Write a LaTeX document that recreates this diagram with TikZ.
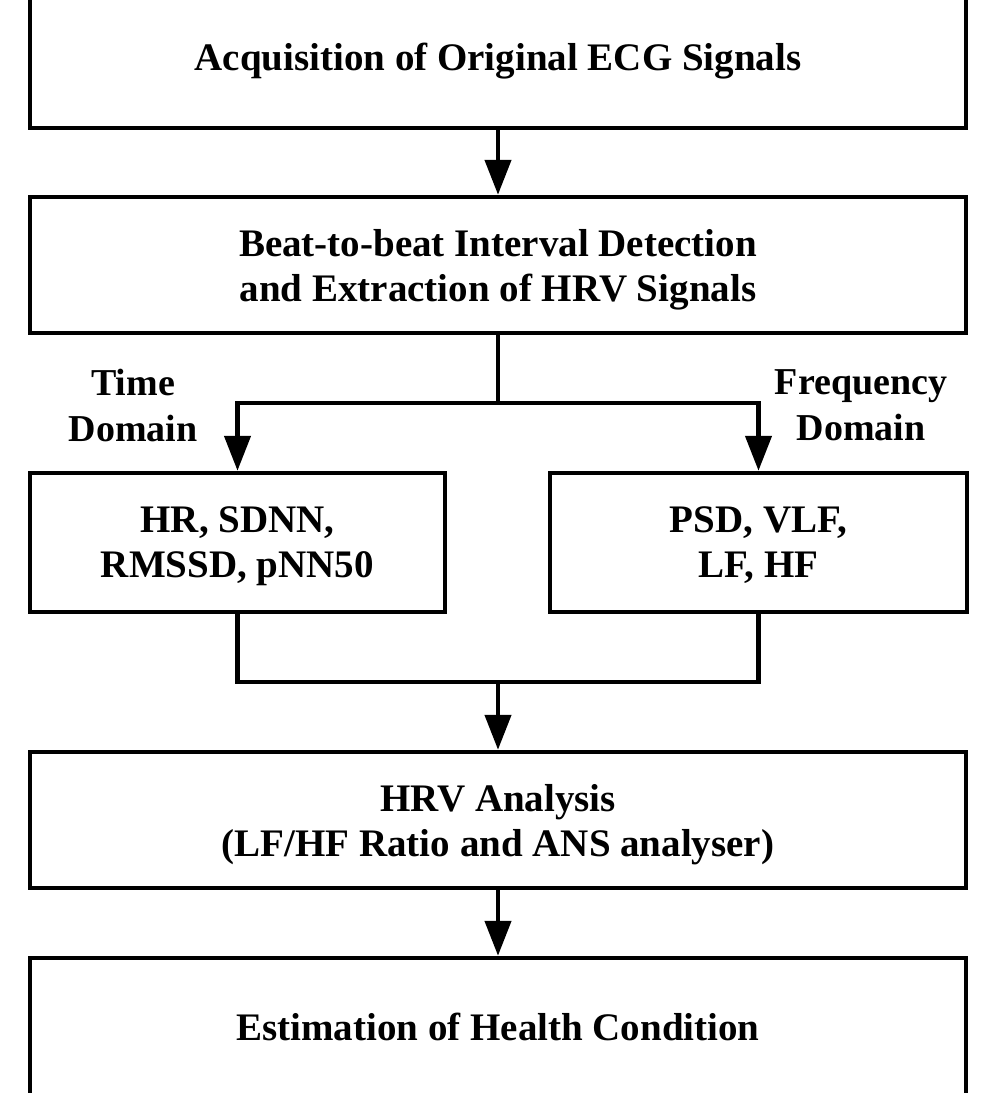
\documentclass[tikz,border=0pt]{standalone}
\usepackage{fontspec}
\setmainfont{Liberation Serif}
\usetikzlibrary{arrows.meta}
\begin{document}
\begin{tikzpicture}[x=1pt,y=-1pt,
  box/.style={draw, line width=4.5pt, align=center, inner sep=0pt, text depth=0pt,
    font=\fontsize{39}{45}\selectfont\bfseries},
  lbl/.style={align=center, inner sep=0pt, font=\fontsize{38}{46}\selectfont\bfseries},
  conn/.style={line width=4.5pt},
  arr/.style={conn, -{Triangle[length=35pt,width=26pt]}}]
\clip (0,0) rectangle (998,1093);
\fill[white] (0,0) rectangle (998,1093);
\node[box, minimum width=936pt, minimum height=142pt] (acq) at (498,57) {Acquisition of Original ECG Signals};
\node[box, minimum width=936pt, minimum height=136pt] (beat) at (498,265) {Beat-to-beat Interval Detection\\and Extraction of HRV Signals};
\node[box, minimum width=415pt, minimum height=139pt] (tbox) at (237.5,542.5) {HR, SDNN,\\RMSSD, pNN50};
\node[box, minimum width=417pt, minimum height=139pt] (fbox) at (758.5,542.5) {PSD, VLF,\\LF, HF};
\node[box, minimum width=936pt, minimum height=136pt] (hrv) at (498,820) {HRV Analysis\\(LF/HF Ratio and ANS analyser)};
\node[box, minimum width=936pt, minimum height=138pt] (est) at (498,1027) {Estimation of Health Condition};
\node[lbl] (tlbl) at (133,405) {Time\\Domain};
\node[lbl] (flbl) at (861,405) {Frequency\\Domain};
\coordinate (split) at (498,403);
\coordinate (join) at (498,682);
\draw[arr] (acq) -- (beat);
\draw[conn] (beat.south) -- (split);
\draw[arr] (split) -| (tbox.north);
\draw[arr] (split) -| (fbox.north);
\draw[conn] (tbox.south) |- (join);
\draw[conn] (fbox.south) |- (join);
\draw[arr] (join) -- (hrv.north);
\draw[arr] (hrv) -- (est);
\end{tikzpicture}
\end{document}
